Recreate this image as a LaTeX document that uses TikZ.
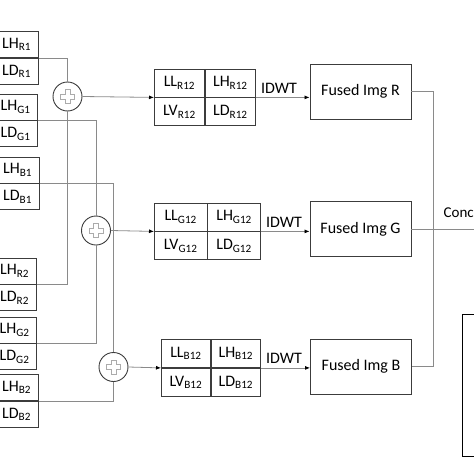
\documentclass[tikz,border=0pt]{standalone}
\usepackage{fontspec}
\setmainfont{Carlito}
\usetikzlibrary{arrows.meta}
\usetikzlibrary{positioning}
\definecolor{boxgray}{HTML}{3C3C3C}
\definecolor{wiregray}{HTML}{8A8A8A}
\definecolor{crossgray}{HTML}{ABABAB}

\begin{document}
\begin{tikzpicture}[x=1pt, y=-1pt,
    cell/.style={draw=boxgray, line width=0.9pt, minimum width=44pt, minimum height=26pt, inner sep=0pt, font=\fontsize{16}{19}\selectfont},
    gcell/.style={cell, minimum width=50pt, minimum height=28pt},
    fused/.style={draw=boxgray, line width=0.9pt, minimum width=101pt, minimum height=55pt, inner sep=0pt, font=\fontsize{16}{19}\selectfont},
    adder/.style={circle, draw=boxgray, line width=0.9pt, minimum size=29pt, inner sep=0pt},
    wire/.style={wiregray, line width=0.8pt},
    arr/.style={wire, -{Latex[length=5pt,width=4pt,color=black]}},
    idwt/.style={anchor=south west, text=black, inner xsep=5pt, inner ysep=4pt, font=\fontsize{16}{19}\selectfont},
    pics/crossmark/.style={code={\draw[crossgray, line width=0.9pt] (-2.5,-7) -- (2.5,-7) -- (2.5,-2.5) -- (7,-2.5) -- (7,2.5) -- (2.5,2.5) -- (2.5,7) -- (-2.5,7) -- (-2.5,2.5) -- (-7,2.5) -- (-7,-2.5) -- (-2.5,-2.5) -- cycle;}}]
            \useasboundingbox (0,0) rectangle (474,474);
            \clip (0,0) rectangle (474,474);
            % first image bands
            \node[cell, anchor=east] (lhr1) at (39,44.5) {LH\textsubscript{R1}};
            \node[cell, below=0pt of lhr1] (ldr1) {LD\textsubscript{R1}};
            \node[cell, anchor=east] (lhg1) at (38,107) {LH\textsubscript{G1}};
            \node[cell, below=0pt of lhg1] (ldg1) {LD\textsubscript{G1}};
            \node[cell, anchor=east] (lhb1) at (40,170) {LH\textsubscript{B1}};
            \node[cell, below=0pt of lhb1] (ldb1) {LD\textsubscript{B1}};
            % second image bands
            \node[cell, anchor=east] (lhr2) at (37,271) {LH\textsubscript{R2}};
            \node[cell, below=0pt of lhr2] (ldr2) {LD\textsubscript{R2}};
            \node[cell, anchor=east] (lhg2) at (37,330) {LH\textsubscript{G2}};
            \node[cell, below=0pt of lhg2] (ldg2) {LD\textsubscript{G2}};
            \node[cell, anchor=east] (lhb2) at (39,387.5) {LH\textsubscript{B2}};
            \node[cell, below=0pt of lhb2] (ldb2) {LD\textsubscript{B2}};
            % adders
            \node[adder] (p1) at (67.5,96.5) {};
            \node[adder] (p2) at (96,230.5) {};
            \node[adder] (p3) at (113.5,367) {};
            \pic at (p1) {crossmark};
            \pic at (p2) {crossmark};
            \pic at (p3) {crossmark};
            % fused coefficient grids
            \node[gcell, anchor=north west] (llr12) at (154,68.5) {LL\textsubscript{R12}};
            \node[gcell, right=0pt of llr12] (lhr12) {LH\textsubscript{R12}};
            \node[gcell, below=0pt of llr12] (lvr12) {LV\textsubscript{R12}};
            \node[gcell, right=0pt of lvr12] (ldr12) {LD\textsubscript{R12}};
            \node[gcell, minimum width=52.5pt, anchor=north west] (llg12) at (154,202.5) {LL\textsubscript{G12}};
            \node[gcell, minimum width=52.5pt, right=0pt of llg12] (lhg12) {LH\textsubscript{G12}};
            \node[gcell, minimum width=52.5pt, below=0pt of llg12] (lvg12) {LV\textsubscript{G12}};
            \node[gcell, minimum width=52.5pt, right=0pt of lvg12] (ldg12) {LD\textsubscript{G12}};
            \node[gcell, minimum width=49pt, anchor=north west] (llb12) at (161,339) {LL\textsubscript{B12}};
            \node[gcell, minimum width=49pt, right=0pt of llb12] (lhb12) {LH\textsubscript{B12}};
            \node[gcell, minimum width=49pt, below=0pt of llb12] (lvb12) {LV\textsubscript{B12}};
            \node[gcell, minimum width=49pt, right=0pt of lvb12] (ldb12) {LD\textsubscript{B12}};
            % fused images
            \node[fused] (fr) at (360.5,91.5) {Fused Img R};
            \node[fused] (fg) at (360.5,229) {Fused Img G};
            \node[fused] (fb) at (361,366.5) {Fused Img B};
            \node[draw=black, line width=1.3pt, minimum width=40pt, minimum height=142pt, anchor=north west] (net) at (462,314) {};
            \coordinate (jn) at (433,366.5);
            \coordinate (gout) at (480,229);
            % wires
            \draw[wire] (lhr1.south east) -| (p1.north);
            \draw[wire] (p1.south) |- (lhr2.south east);
            \draw[wire] (lhg1.south east) -| (p2.north);
            \draw[wire] (p2.south) |- (lhg2.south east);
            \draw[wire] (lhb1.south east) -| (p3.north);
            \draw[wire] (p3.south) |- (lhb2.south east);
            \draw[arr] (p1.east) -- (llr12.south west);
            \draw[arr] (p2.east) -- (llg12.south west);
            \draw[arr] (p3.east) -- (llb12.south west);
            \draw[arr] (lhr12.south east) -- (lhr12.south east -| fr.west) node[idwt, pos=0] {IDWT};
            \draw[arr] (lhg12.south east) -- (lhg12.south east -| fg.west) node[idwt, pos=0] {IDWT};
            \draw[arr] (lhb12.south east) -- (lhb12.south east -| fb.west) node[idwt, pos=0] {IDWT};
            \draw[wire] (fr.east) -| (jn) -- (fb.east);
            \draw[wire] (fg.east) -- (gout);
            \node[anchor=west, inner sep=0pt, font=\fontsize{15}{18}\selectfont] (conc) at (443.5,213) {Conc};
        \end{tikzpicture}
\end{document}
